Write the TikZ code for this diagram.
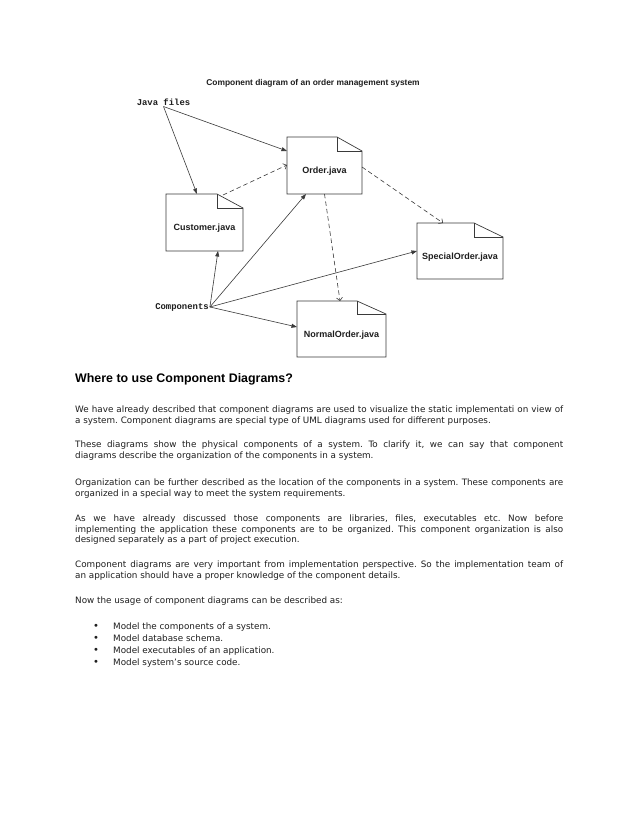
\documentclass[tikz,border=0pt]{standalone}
\usepackage{fontspec}
\setmainfont{DejaVu Sans}
\newfontfamily\arialf{Liberation Sans}
\newfontfamily\courf{Liberation Mono}
\usetikzlibrary{arrows.meta,calc}
\definecolor{lin}{HTML}{3A3A3A}
\definecolor{txt}{HTML}{1E1E1E}
\newcommand\notefold[3]{%
  \draw[noteline] (#1.north west) -- ([xshift=-#2]#1.north east) -- ([yshift=-#3]#1.north east) -- (#1.south east) -- (#1.south west) -- cycle;
  \draw[noteline] ([xshift=-#2]#1.north east) -- ([xshift=-#2,yshift=-#3]#1.north east) -- ([yshift=-#3]#1.north east);}
\begin{document}
\frenchspacing
\begin{tikzpicture}[x=1pt,y=-1pt,
  noteline/.style={draw=lin, line width=0.7pt},
  notebox/.style={draw=none, inner sep=0pt, outer sep=0pt},
  lbl/.style={font=\arialf\bfseries\fontsize{9}{10}\selectfont, text=txt, yshift=-6pt},
  monolbl/.style={font=\courf\bfseries\fontsize{8.9}{10}\selectfont, text=txt, inner sep=1pt},
  solidarrow/.style={draw=lin, line width=0.6pt, -{Triangle[length=5.5pt,width=4pt]}},
  dasharrow/.style={draw=lin, line width=0.6pt, dash pattern=on 4.5pt off 3pt, -{Straight Barb[length=3pt,width=6pt]}},
  para/.style={anchor=base west, inner sep=0pt, text width=488pt, align=justify, text=txt,
    font=\fontsize{8.8}{10.5}\selectfont},
  bul/.style={anchor=base west, inner sep=0pt, text=txt, font=\fontsize{8.8}{10.5}\selectfont}]
\useasboundingbox[fill=white] (0,0) rectangle (638,826);

% title
\node[font=\arialf\bfseries\fontsize{8.4}{10}\selectfont, text=txt] (title) at (313,83) {Component diagram of an order management system};

% labels
\node[monolbl] (java) at (163.5,102) {Java files};
\node[monolbl] (comp) at (182,307) {Components};

% component notes
\node[notebox, minimum width=75pt, minimum height=57pt, label={[lbl]center:Order.java}] (order) at (324.5,165.5) {};
\node[notebox, minimum width=77pt, minimum height=57pt, label={[lbl]center:Customer.java}] (cust) at (204.5,222.5) {};
\node[notebox, minimum width=86pt, minimum height=56pt, label={[lbl]center:SpecialOrder.java}] (spec) at (460,251) {};
\node[notebox, minimum width=89pt, minimum height=56pt, label={[lbl]center:NormalOrder.java}] (norm) at (341.5,329) {};
\notefold{order}{25pt}{14pt}
\notefold{cust}{26pt}{14pt}
\notefold{spec}{29pt}{14pt}
\notefold{norm}{29pt}{13pt}

% connectors
\draw[solidarrow] (java.south) -- ([yshift=-14pt]order.north west);
\draw[solidarrow] (java.south) -- ([xshift=31pt]cust.north west);
\draw[dasharrow] ([xshift=57pt,yshift=-1pt]cust.north west) -- ([yshift=-28pt]order.north west);
\draw[dasharrow] ([yshift=-30pt]order.north east) -- ([xshift=26pt]spec.north west);
\draw[dasharrow] (order.south) -- ([xshift=43pt]norm.north west);
\draw[solidarrow] (comp.east) -- ([xshift=52pt]cust.south west);
\draw[solidarrow] (comp.east) -- ([xshift=19pt]order.south west);
\draw[solidarrow] (comp.east) -- ([yshift=-28pt]spec.north west);
\draw[solidarrow] (comp.east) -- ([yshift=-26pt]norm.north west);

% heading
\node[anchor=base west, inner sep=0pt, text=black, font=\arialf\bfseries\fontsize{12.4}{14}\selectfont] (head) at (75,382.5) {Where to use Component Diagrams?};

% paragraphs
\node[para] (p1) at (75,412.5) {We have already described that component diagrams are used to visualize the static implementati on view of\linebreak a system. Component diagrams are special type of UML diagrams used for different purposes.};
\node[para] (p2) at (75,447.5) {These diagrams show the physical components of a system. To clarify it, we can say that component\linebreak diagrams describe the organization of the components in a system.};
\node[para] (p3) at (75,485.5) {Organization can be further described as the location of the components in a system. These components are\linebreak organized in a special way to meet the system requirements.};
\node[para] (p4) at (75,521.5) {As we have already discussed those components are libraries, files, executables etc. Now before\linebreak implementing the application these components are to be organized. This component organization is also\linebreak designed separately as a part of project execution.};
\node[para] (p5) at (75,567.5) {Component diagrams are very important from implementation perspective. So the implementation team of\linebreak an application should have a proper knowledge of the component details.};
\node[para] (p6) at (75,603.5) {Now the usage of component diagrams can be described as:};

% bullets
\foreach \yy/\tt [count=\i] in {629.5/Model the components of a system., 641.5/Model database schema., 653.5/Model executables of an application., 665.5/Model system's source code.}{
  \node[bul, anchor=base, font=\fontsize{10}{10}\selectfont] (b\i) at (96,\yy) {•};
  \node[bul] (bt\i) at (113,\yy) {\tt};
}
\end{tikzpicture}
\end{document}
